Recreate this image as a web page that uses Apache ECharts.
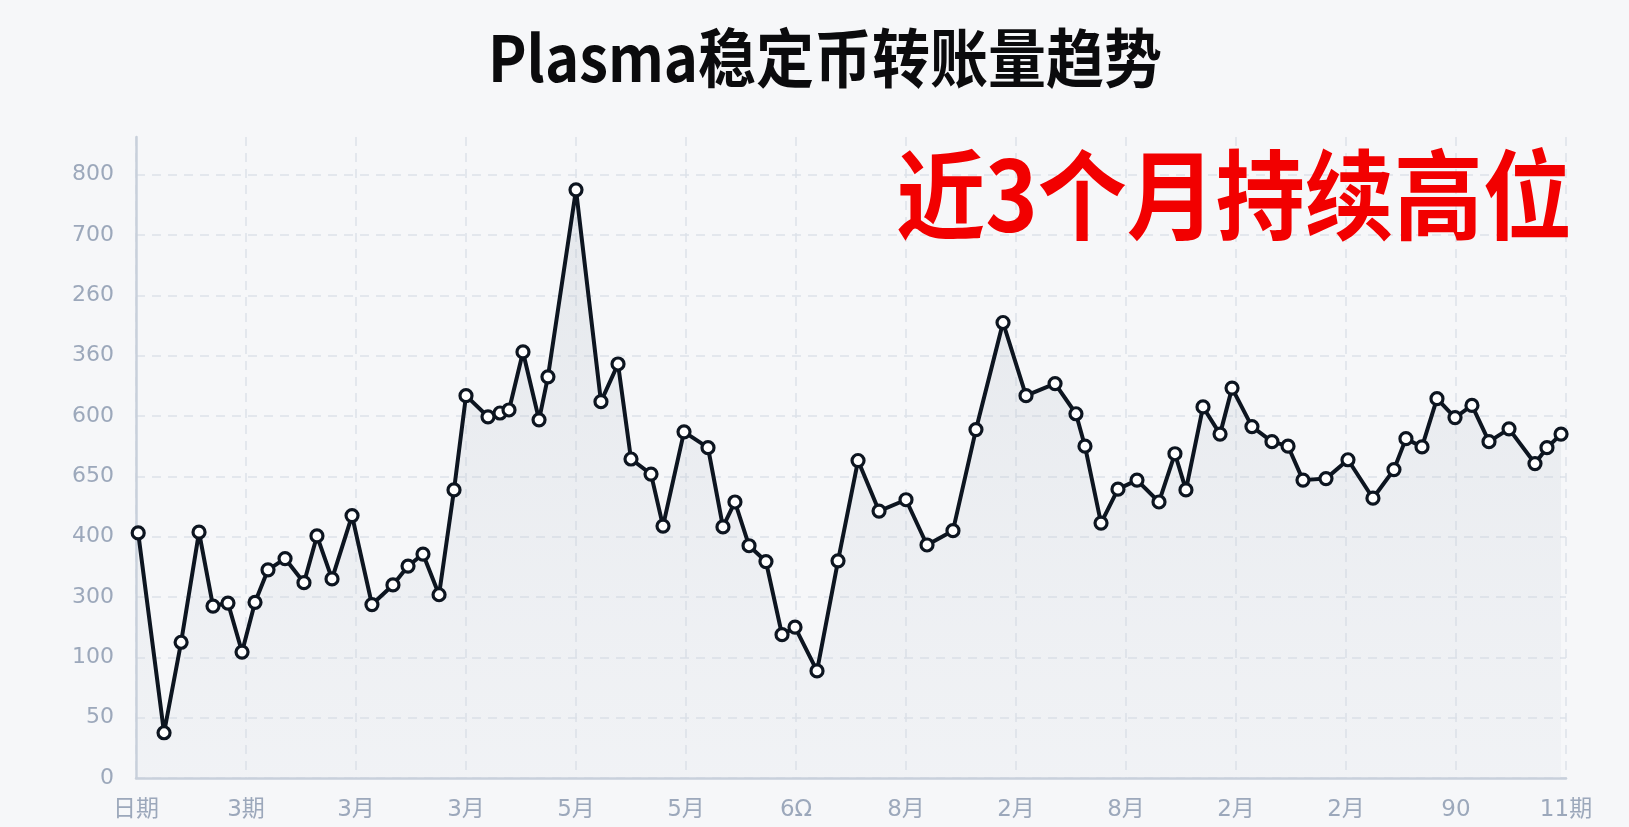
<!DOCTYPE html>
<html><head><meta charset="utf-8">
<script src="https://cdn.jsdelivr.net/npm/echarts@6/dist/echarts.min.js"></script>
<style>html,body{margin:0;padding:0;background:#f6f7f9}#c{width:1629px;height:827px}</style>
</head><body><div id="c"></div>
<script>
const titleText = 'Plasma稳定币转账量趋势';
const subtitleText = '近3个月持续高位';
const xLabels = ['日期','3期','3月','3月','5月','5月','6Ω','8月','2月','8月','2月','2月','90','11期'];
const yLabels = ['0','50','100','300','400','650','600','360','260','700','800'];
// x position of each observation along the period axis (0 = 日期 ... 13 = 11期)
const xPos = [0.02,0.255,0.41,0.573,0.70,0.836,0.964,1.082,1.20,1.355,1.527,1.645,1.782,1.964,2.145,2.336,2.473,2.609,2.755,2.891,
  3.0,3.2,3.309,3.391,3.518,3.664,3.745,4.0,4.227,4.382,4.5,4.682,4.791,4.982,5.2,5.336,5.445,5.573,5.727,5.873,
  5.991,6.191,6.382,6.564,6.755,7.0,7.191,7.427,7.636,7.882,8.091,8.355,8.545,8.627,8.773,8.927,9.1,9.3,9.445,9.545,
  9.7,9.855,9.964,10.145,10.327,10.473,10.609,10.818,11.018,11.245,11.436,11.545,11.691,11.827,11.991,12.145,12.3,12.482,12.718,12.827,12.955];
// values on the chart's linear vertical scale (one gridline step = 80)
const values = [325,60,180,326,228,232,167,233,276,291,259,321,264,348,230,256,281,297,243,382,
  507,479,484,488,565,475,532,780,499,549,423,403,334,459,438,333,366,308,287,190,
  200,142,288,421,354,369,309,328,462,604,507,523,483,440,338,383,395,366,430,382,
  492,456,517,466,446,440,395,397,422,371,409,450,439,503,478,494,446,463,417,438,456];

const chart = echarts.init(document.getElementById('c'));
const axisCol = '#c8d0db';
const labCol = '#9ca8bb';
const gridCol = '#dde2e9';
chart.setOption({
  backgroundColor: '#f6f7f9',
  animation: false,
  graphic: [
    { type: 'text', x: 825, y: 58, scaleY: 1.1, z: 10,
      style: { text: titleText, fontFamily: 'Noto Sans CJK SC', fontWeight: 'bold', fontSize: 58,
        fill: '#0b0b0d', align: 'center', verticalAlign: 'middle' } },
    { type: 'text', x: 1234, y: 195, scaleY: 1.1, z: 10,
      style: { text: subtitleText, fontFamily: 'Noto Sans CJK SC', fontWeight: 'bold', fontSize: 89,
        fill: '#f20000', align: 'center', verticalAlign: 'middle' } }
  ],
  grid: { left: 136, right: 63, top: 137, bottom: 49, containLabel: false },
  xAxis: {
    type: 'value', min: 0, max: 13, interval: 1,
    axisLine: { show: true, lineStyle: { color: axisCol, width: 2.5 } },
    axisTick: { show: false },
    axisLabel: { margin: 21, fontSize: 23, color: labCol, fontFamily: 'DejaVu Sans, Noto Sans CJK SC',
      formatter: v => xLabels[Math.round(v)] ?? '' },
    splitLine: { show: true, lineStyle: { color: gridCol, width: 1.5, type: [9, 7] } }
  },
  yAxis: {
    type: 'value', min: 0, max: 850, interval: 80,
    axisLine: { show: true, lineStyle: { color: axisCol, width: 2.5 } },
    axisTick: { show: false },
    axisLabel: { margin: 22, fontSize: 22, color: labCol, fontFamily: 'DejaVu Sans, Noto Sans CJK SC',
      formatter: v => (v % 80 === 0 ? (yLabels[Math.round(v / 80)] ?? '') : '') },
    splitLine: { show: true, showMaxLine: false, lineStyle: { color: gridCol, width: 1.5, type: [9, 7] } }
  },
  series: [{
    type: 'line',
    data: xPos.map((x, i) => [x, values[i]]),
    symbol: 'circle', symbolSize: 12,
    itemStyle: { color: '#ffffff', borderColor: '#0d1520', borderWidth: 3.2 },
    lineStyle: { color: '#0d1520', width: 4 },
    areaStyle: {
      color: new echarts.graphic.LinearGradient(0, 0, 0, 1, [
        { offset: 0, color: 'rgba(170,180,192,0.32)' },
        { offset: 1, color: 'rgba(215,220,228,0.25)' }
      ])
    },
    z: 3
  }]
});
</script></body></html>
